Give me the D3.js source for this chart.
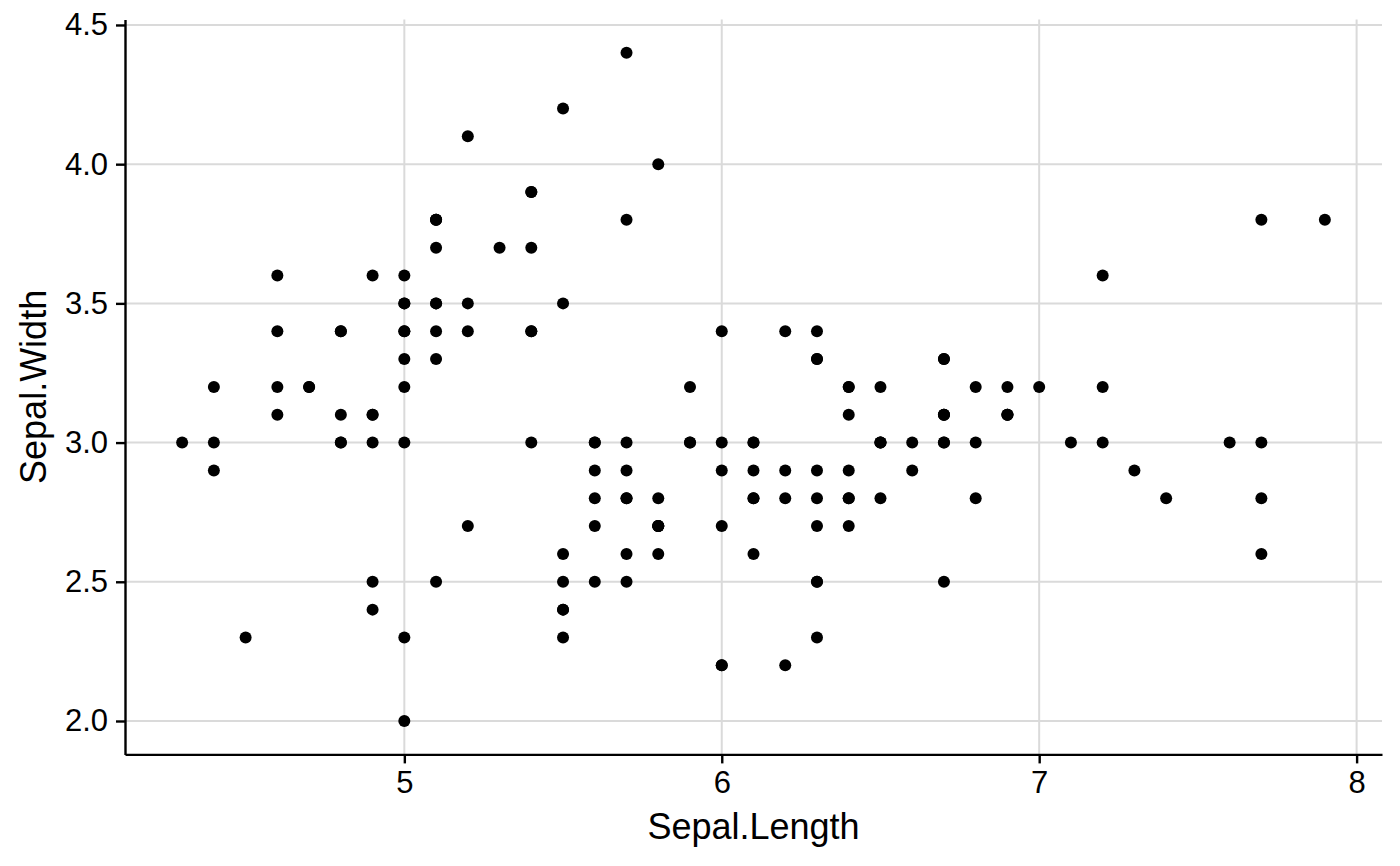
<!DOCTYPE html>
<html>
<head>
<meta charset="utf-8">
<script src="https://cdn.jsdelivr.net/npm/d3@7"></script>
<style>
  body { margin: 0; background: #fff; }
  text { font-family: "Liberation Sans", Arial, Helvetica, sans-serif; fill: #000; }
</style>
</head>
<body>
<script>
// iris: Sepal.Length / Sepal.Width
var sepalLength = [
  5.1,4.9,4.7,4.6,5.0,5.4,4.6,5.0,4.4,4.9,5.4,4.8,4.8,4.3,5.8,5.7,5.4,5.1,5.7,5.1,
  5.4,5.1,4.6,5.1,4.8,5.0,5.0,5.2,5.2,4.7,4.8,5.4,5.2,5.5,4.9,5.0,5.5,4.9,4.4,5.1,
  5.0,4.5,4.4,5.0,5.1,4.8,5.1,4.6,5.3,5.0,
  7.0,6.4,6.9,5.5,6.5,5.7,6.3,4.9,6.6,5.2,5.0,5.9,6.0,6.1,5.6,6.7,5.6,5.8,6.2,5.6,
  5.9,6.1,6.3,6.1,6.4,6.6,6.8,6.7,6.0,5.7,5.5,5.5,5.8,6.0,5.4,6.0,6.7,6.3,5.6,5.5,
  5.5,6.1,5.8,5.0,5.6,5.7,5.7,6.2,5.1,5.7,
  6.3,5.8,7.1,6.3,6.5,7.6,4.9,7.3,6.7,7.2,6.5,6.4,6.8,5.7,5.8,6.4,6.5,7.7,7.7,6.0,
  6.9,5.6,7.7,6.3,6.7,7.2,6.2,6.1,6.4,7.2,7.4,7.9,6.4,6.3,6.1,7.7,6.3,6.4,6.0,6.9,
  6.7,6.9,5.8,6.8,6.7,6.7,6.3,6.5,6.2,5.9
];
var sepalWidth = [
  3.5,3.0,3.2,3.1,3.6,3.9,3.4,3.4,2.9,3.1,3.7,3.4,3.0,3.0,4.0,4.4,3.9,3.5,3.8,3.8,
  3.4,3.7,3.6,3.3,3.4,3.0,3.4,3.5,3.4,3.2,3.1,3.4,4.1,4.2,3.1,3.2,3.5,3.6,3.0,3.4,
  3.5,2.3,3.2,3.5,3.8,3.0,3.8,3.2,3.7,3.3,
  3.2,3.2,3.1,2.3,2.8,2.8,3.3,2.4,2.9,2.7,2.0,3.0,2.2,2.9,2.9,3.1,3.0,2.7,2.2,2.5,
  3.2,2.8,2.5,2.8,2.9,3.0,2.8,3.0,2.9,2.6,2.4,2.4,2.7,2.7,3.0,3.4,3.1,2.3,3.0,2.5,
  2.6,3.0,2.6,2.3,2.7,3.0,2.9,2.9,2.5,2.8,
  3.3,2.7,3.0,2.9,3.0,3.0,2.5,2.9,2.5,3.6,3.2,2.7,3.0,2.5,2.8,3.2,3.0,3.8,2.6,2.2,
  3.2,2.8,2.8,2.7,3.3,3.2,2.8,3.0,2.8,3.0,2.8,3.8,2.8,2.8,2.6,3.0,3.4,3.1,3.0,3.1,
  3.1,3.1,2.7,3.2,3.3,3.0,2.5,3.0,3.4,3.0
];
var xTicks = [5, 6, 7, 8];
var yTicks = [2.0, 2.5, 3.0, 3.5, 4.0, 4.5];
var xTitle = "Sepal.Length";
var yTitle = "Sepal.Width";

var width = 1400, height = 866;
var plotLeft = 125, plotRight = 1382, plotTop = 19.4, plotBottom = 754.4;

var svg = d3.select("body").append("svg")
  .attr("width", width)
  .attr("height", height);

// ggplot style 5% expansion
function expand(ext) {
  var pad = (ext[1] - ext[0]) * 0.05;
  return [ext[0] - pad, ext[1] + pad];
}

var x = d3.scaleLinear().domain(expand(d3.extent(sepalLength))).range([plotLeft, plotRight]);
var y = d3.scaleLinear().domain(expand(d3.extent(sepalWidth))).range([plotBottom, plotTop]);

// grid
var grid = svg.append("g").attr("class", "grid");
grid.selectAll(".gx").data(xTicks).enter().append("line")
  .attr("x1", d => x(d)).attr("x2", d => x(d))
  .attr("y1", plotTop).attr("y2", plotBottom)
  .style("stroke", "#dadada").style("stroke-width", 2);
grid.selectAll(".gy").data(yTicks).enter().append("line")
  .attr("x1", plotLeft).attr("x2", plotRight)
  .attr("y1", d => y(d)).attr("y2", d => y(d))
  .style("stroke", "#dadada").style("stroke-width", 2);

// points
var pts = d3.range(sepalLength.length);
svg.append("g").selectAll("circle").data(pts).enter().append("circle")
  .attr("cx", i => x(sepalLength[i]))
  .attr("cy", i => y(sepalWidth[i]))
  .attr("r", 6)
  .style("fill", "#000");

// axes
var xAxis = svg.append("g")
  .attr("transform", "translate(0," + plotBottom + ")")
  .call(d3.axisBottom(x).tickValues(xTicks).tickFormat(d3.format("d"))
    .tickSizeInner(9).tickSizeOuter(0).tickPadding(8));
var yAxis = svg.append("g")
  .attr("transform", "translate(" + plotLeft + ",0)")
  .call(d3.axisLeft(y).tickValues(yTicks).tickFormat(d3.format(".1f"))
    .tickSizeInner(9).tickSizeOuter(0).tickPadding(8));

[xAxis, yAxis].forEach(function (a) {
  a.attr("font-family", null).attr("font-size", null);
  a.select(".domain").style("stroke", "#000").style("stroke-width", 2.4);
  a.selectAll(".tick line").style("stroke", "#000").style("stroke-width", 2.4);
  a.selectAll(".tick text").style("font-size", "31px").style("fill", "#000");
});

// titles
svg.append("text")
  .attr("x", (plotLeft + plotRight) / 2)
  .attr("y", 839)
  .attr("text-anchor", "middle")
  .style("font-size", "36px")
  .text(xTitle);
svg.append("text")
  .attr("transform", "translate(46," + (plotTop + plotBottom) / 2 + ") rotate(-90)")
  .attr("text-anchor", "middle")
  .style("font-size", "36px")
  .text(yTitle);
</script>
</body>
</html>
